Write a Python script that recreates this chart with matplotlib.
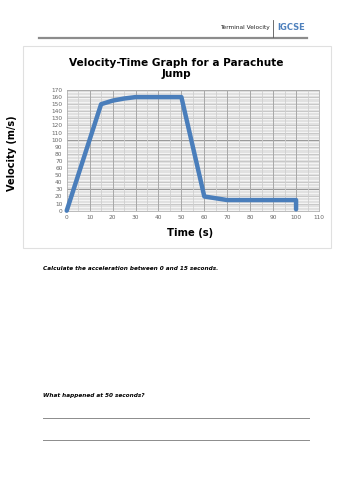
import numpy as np
import matplotlib.pyplot as plt
from matplotlib.patches import Rectangle
from matplotlib.lines import Line2D

# Data
time_s = [0, 15, 20, 25, 30, 50, 60, 70, 100, 100]
velocity = [0, 150, 155, 158, 160, 160, 20, 15, 15, 2]
x_ticks = list(range(0, 111, 10))
y_ticks = list(range(0, 171, 10))

W, H = 353, 500
fig = plt.figure(figsize=(W / 100, H / 100), dpi=100)


def px(x, y):
    # pixel coords -> figure fraction
    return x / W, 1 - y / H


# Header
fig.add_artist(Line2D([39 / W, 307 / W], [1 - 37.5 / H] * 2, color='#8c8c8c', lw=1.6))
fig.add_artist(Line2D([273 / W] * 2, [1 - 20 / H, 1 - 37 / H], color='#555555', lw=0.6))
fig.text(*px(270, 28), 'Terminal Velocity', ha='right', va='center', fontsize=4.2, color='#222222')
fig.text(*px(277, 28), 'IGCSE', ha='left', va='center', fontsize=6, color='#4f81bd',
         fontweight='bold')

# Chart frame
x0, y0 = px(23, 248)
fig.add_artist(Rectangle((x0, y0), (331 - 23) / W, (248 - 46) / H, transform=fig.transFigure,
                         fill=False, edgecolor='#e0e0e0', lw=0.8))

fig.text(*px(176, 68.5), 'Velocity-Time Graph for a Parachute\nJump', ha='center', va='center',
         fontsize=7.6, fontweight='bold', linespacing=1.15)

l, b = px(66.7, 210.7)
r, t = px(319, 90)
ax = fig.add_axes([l, b, r - l, t - b])
ax.set_xlim(0, 110)
ax.set_ylim(0, 170)
ax.set_facecolor('#f4f4f4')

# graph-paper grid
for yy in np.arange(0, 171, 2):
    ax.axhline(yy, color='#dadada', lw=0.5, zorder=0)
for yy in range(0, 171, 10):
    ax.axhline(yy, color='#c4c4c4', lw=0.6, zorder=0)
for yy in (30, 100, 170):
    ax.axhline(yy, color='#9a9a9a', lw=0.8, zorder=0)
for xx in range(5, 111, 10):
    ax.axvline(xx, color='#cfcfcf', lw=0.6, zorder=0)
for xx in range(10, 111, 10):
    ax.axvline(xx, color='#a8a8a8', lw=0.7, zorder=0)

ax.plot(time_s, velocity, color='#4a7ebb', lw=3.2, solid_joinstyle='round',
        solid_capstyle='round', zorder=3, clip_on=False)

ax.set_xticks(x_ticks)
ax.set_yticks(y_ticks)
ax.tick_params(labelsize=4.2, colors='#666666', length=0, pad=3)
for s in ax.spines.values():
    s.set_color('#b0b0b0')
    s.set_linewidth(0.6)

fig.text(*px(12, 153), 'Velocity (m/s)', rotation=90, ha='center', va='center',
         fontsize=7, fontweight='bold')
fig.text(*px(190, 233), 'Time (s)', ha='center', va='center', fontsize=7.2, fontweight='bold')

# Worksheet questions
hand = dict(family='DejaVu Sans', fontstretch='condensed', fontweight='bold',
            fontstyle='italic', fontsize=4.6, ha='left', va='center')
fig.text(*px(43, 268), 'Calculate the acceleration between 0 and 15 seconds.', **hand)
fig.text(*px(43, 396), 'What happened at 50 seconds?', **hand)
for yy in (418, 440):
    fig.add_artist(Line2D([43 / W, 309 / W], [1 - yy / H] * 2, color='#8c8c8c', lw=0.7))

fig.savefig('out.png', dpi=100)
